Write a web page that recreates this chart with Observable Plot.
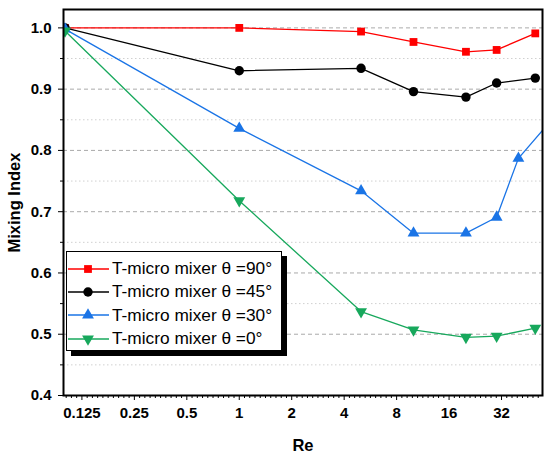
<!DOCTYPE html>
<html>
<head>
<meta charset="utf-8">
<script src="https://cdn.jsdelivr.net/npm/d3@7"></script>
<script src="https://cdn.jsdelivr.net/npm/@observablehq/plot@0.6"></script>
<style>
  body { margin: 0; background: #fff; }
  #chart { position: relative; width: 550px; height: 458px; }
  #chart svg text { font-family: "Liberation Sans", Arial, sans-serif; font-weight: bold; }
  .legend {
    position: absolute; left: 66px; top: 251px; width: 216px; height: 100px;
    border: 1px solid #000; background: #fff; box-shadow: 5px 5px 0 #000;
    font-family: "Liberation Sans", Arial, sans-serif; font-size: 17.3px;
    box-sizing: border-box; padding-top: 5px;
  }
  .legend .row { display: flex; align-items: center; height: 23.3px; white-space: nowrap; }
  .legend svg { margin-right: 0; flex: none; }
</style>
</head>
<body>
<div id="chart"></div>
<script>
  // Reynolds numbers sampled
  const reMain = [0.1, 1, 5, 10, 20, 30, 50];
  const reBlue = [0.1, 1, 5, 10, 20, 30, 40, 60];

  // Mixing index per mixer angle
  const mix90 = [1.0, 1.0, 0.994, 0.977, 0.961, 0.964, 0.991];
  const mix45 = [1.0, 0.930, 0.934, 0.896, 0.887, 0.910, 0.918];
  const mix30 = [0.998, 0.836, 0.734, 0.665, 0.665, 0.691, 0.787, 0.845];
  const mix0  = [0.995, 0.718, 0.537, 0.507, 0.495, 0.497, 0.510];

  const seriesNames = ['T-micro mixer θ =90°', 'T-micro mixer θ =45°', 'T-micro mixer θ =30°', 'T-micro mixer θ =0°'];
  const seriesColors = ['#ff0000', '#000000', '#1a74e6', '#17a85c'];

  const xTicks = [0.125, 0.25, 0.5, 1, 2, 4, 8, 16, 32];
  const yTicks = [0.4, 0.5, 0.6, 0.7, 0.8, 0.9, 1.0];
  const yMinor = [0.45, 0.55, 0.65, 0.75, 0.85, 0.95];

  // downward triangle symbol
  const triangleDown = {
    draw(context, size) {
      const y = -Math.sqrt(size / (Math.sqrt(3) * 3));
      context.moveTo(0, -y * 2);
      context.lineTo(-Math.sqrt(3) * y, y);
      context.lineTo(Math.sqrt(3) * y, y);
      context.closePath();
    }
  };
  const symbols = ['square', 'circle', 'triangle', triangleDown];
  const radii = [4.4, 4.7, 4.4, 4.4];

  const columns = [[reMain, mix90], [reMain, mix45], [reBlue, mix30], [reMain, mix0]];
  const rows = columns.flatMap(([xs, ys], i) =>
    xs.map((re, j) => ({ re, mix: ys[j], series: seriesNames[i], idx: i })));

  // minor x ticks: nine per octave
  const xMinor = [];
  for (let e = -4; e <= 6; e++) {
    for (let k = 1; k < 10; k++) xMinor.push(Math.pow(2, e + k / 10));
  }

  const chart = Plot.plot({
    width: 550,
    height: 458,
    marginLeft: 63,
    marginRight: 8,
    marginTop: 9,
    marginBottom: 63,
    style: { fontSize: '15px', background: '#fff' },
    x: { type: 'log', base: 2, domain: [0.098, 55], axis: null },
    y: { domain: [0.4, 1.03], axis: null },
    color: { domain: seriesNames, range: seriesColors },
    marks: [
      Plot.ruleY(yTicks.filter(d => d > 0.4), { stroke: '#aaa', strokeDasharray: '4,3' }),
      Plot.ruleY(yMinor, { stroke: '#d0d0d0', strokeDasharray: '1.5,2.5' }),
      Plot.axisX(xMinor.filter(d => d > 0.098 && d < 55), { tickSize: 3, tickFormat: () => '', label: null }),
      Plot.axisX(xTicks, {
        tickSize: 5, tickPadding: 7, tickFormat: d => String(d), label: null
      }),
      Plot.axisX([], {
        fontSize: 16.5, label: 'Re', labelAnchor: 'center', labelArrow: 'none', labelOffset: 55
      }),
      Plot.axisY(yMinor, { tickSize: 3, tickFormat: () => '', label: null }),
      Plot.axisY(yTicks, {
        tickSize: 5, tickPadding: 7, tickFormat: d => d.toFixed(1), label: null
      }),
      Plot.axisY([], {
        fontSize: 16.5, label: 'Mixing Index', labelAnchor: 'center', labelArrow: 'none', labelOffset: 55
      }),
      Plot.line(rows, { x: 're', y: 'mix', z: 'series', stroke: 'series', strokeWidth: 1.3, clip: true }),
      ...seriesNames.map((name, i) =>
        Plot.dot(rows.filter(d => d.idx === i), {
          x: 're', y: 'mix', fill: seriesColors[i], stroke: 'none',
          symbol: symbols[i], r: radii[i], clip: true
        })),
      Plot.frame({ stroke: '#000', strokeWidth: 2 })
    ]
  });

  const host = document.getElementById('chart');
  host.appendChild(chart);

  // legend overlay
  const legend = document.createElement('div');
  legend.className = 'legend';
  seriesNames.forEach((name, i) => {
    const row = document.createElement('div');
    row.className = 'row';
    const sw = d3.create('svg').attr('width', 45).attr('height', 20);
    sw.append('line').attr('x1', 1).attr('x2', 42).attr('y1', 10).attr('y2', 10)
      .attr('stroke', seriesColors[i]).attr('stroke-width', 1.3);
    const sym = d3.symbol(
      i === 0 ? d3.symbolSquare : i === 1 ? d3.symbolCircle : i === 2 ? d3.symbolTriangle : triangleDown,
      Math.PI * radii[i] * radii[i]);
    sw.append('path').attr('d', sym()).attr('transform', 'translate(21,10)').attr('fill', seriesColors[i]);
    row.appendChild(sw.node());
    const label = document.createElement('span');
    label.textContent = name;
    row.appendChild(label);
    legend.appendChild(row);
  });
  host.appendChild(legend);
</script>
</body>
</html>
